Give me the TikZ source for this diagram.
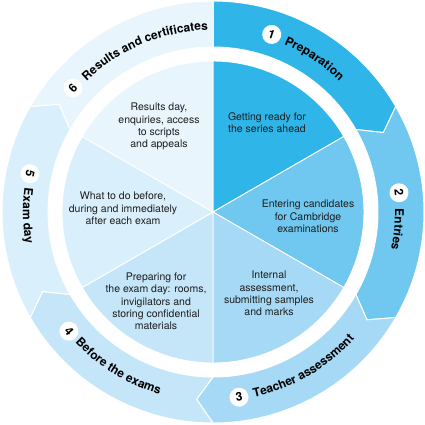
\documentclass[tikz,border=0pt]{standalone}
\usepackage{fontspec}
\setmainfont{TeX Gyre Heros}
\usetikzlibrary{decorations.text}
\definecolor{cA}{HTML}{2FB5E8}
\definecolor{cB}{HTML}{70C7EF}
\definecolor{cC}{HTML}{A5D9F5}
\definecolor{cD}{HTML}{C5E5F8}
\definecolor{cE}{HTML}{D9EFFB}
\definecolor{cF}{HTML}{E8F5FD}
\definecolor{txt}{HTML}{1E1E1E}
\def\Ro{211pt}
\def\Ri{165pt}
\def\Rm{188pt}
\def\Rp{151pt}
\newcommand\lbl{\bfseries\fontsize{12}{14}\selectfont}
\newcommand\ringseg[3]{%
  \fill[#1, draw=white, line width=1pt] (#2:\Ro) arc[start angle=#2, end angle=#3, radius=\Ro]
    -- ({#3-5}:\Rm) -- (#3:\Ri) arc[start angle=#3, end angle=#2, radius=\Ri]
    -- ({#2-5}:\Rm) -- cycle;}
\newcommand\piesec[3]{%
  \fill[#1, draw=white, line width=0.9pt] (0,0) -- (#2:\Rp) arc[start angle=#2, end angle=#3, radius=\Rp] -- cycle;}
\begin{document}
\begin{tikzpicture}[x=1pt,y=1pt,
  pietext/.style={align=center, text=txt, font=\fontsize{10.5}{12.3}\selectfont, inner sep=0pt},
  numc/.style={circle, fill=white, inner sep=0pt, minimum size=19pt, text=black, font=\bfseries\fontsize{12}{12}\selectfont}]
\useasboundingbox (-213,-212) rectangle (212,212);
% pie
\piesec{cA}{90}{30}
\piesec{cB}{30}{-30}
\piesec{cC}{-30}{-90}
\piesec{cD}{-90}{-150}
\piesec{cE}{-150}{-210}
\piesec{cF}{150}{90}
% ring
\fill[cA, draw=white, line width=1pt] (90:\Ro) arc[start angle=90, end angle=30, radius=\Ro]
  -- (25:\Rm) -- (30:\Ri) arc[start angle=30, end angle=90, radius=\Ri] -- cycle;
\ringseg{cB}{30}{-30}
\ringseg{cC}{-30}{-90}
\ringseg{cD}{-90}{-150}
\ringseg{cE}{-150}{-210}
\fill[cF, draw=white, line width=1pt] (150:\Ro) arc[start angle=150, end angle=90, radius=\Ro]
  -- (90:\Ri) arc[start angle=90, end angle=150, radius=\Ri] -- (145:\Rm) -- cycle;
% pie texts
\node[pietext] (t1) at (54,89.5) {Getting ready for\\the series ahead};
\node[pietext] (t2) at (95,-4.5) {Entering candidates\\for Cambridge\\examinations};
\node[pietext] (t3) at (56,-81.5) {Internal\\assessment,\\submitting samples\\and marks};
\node[pietext] (t4) at (-57,-89.5) {Preparing for\\the exam day: rooms,\\invigilators and\\storing confidential\\materials};
\node[pietext] (t5) at (-90,3.5) {What to do before,\\during and immediately\\after each exam};
\node[pietext] (t6) at (-54,85.5) {Results day,\\enquiries, access\\to scripts\\and appeals};
% number circles
\node[numc, rotate=-18.3] (n1) at (71.7:187pt) {1};
\node[numc, rotate=-84.1] (n2) at (5.9:187pt) {2};
\node[numc, rotate=8] (n3) at (-82:187pt) {3};
\node[numc, rotate=-50.4] (n4) at (-140.4:187pt) {4};
\node[numc, rotate=-101.8] (n5) at (168.2:187pt) {5};
\node[numc, rotate=48.5] (n6) at (138.5:187pt) {6};
% ring labels
\path[decorate, decoration={text along path, text={|\lbl|Preparation}}]
  (67:182pt) arc[start angle=67, end angle=0, radius=182pt];
\path[decorate, decoration={text along path, text={|\lbl|Entries}}]
  (1:182pt) arc[start angle=1, end angle=-50, radius=182pt];
\path[decorate, decoration={text along path, text={|\lbl|Teacher assessment}}]
  (-77.5:190pt) arc[start angle=-77.5, end angle=-10, radius=190pt];
\path[decorate, decoration={text along path, text={|\lbl|Before the exams}}]
  (-136.5:190pt) arc[start angle=-136.5, end angle=-80, radius=190pt];
\path[decorate, decoration={text along path, text={|\lbl|Exam day}}]
  (172.7:190pt) arc[start angle=172.7, end angle=230, radius=190pt];
\path[decorate, decoration={text along path, text={|\lbl|Results and certificates}}]
  (134:182pt) arc[start angle=134, end angle=70, radius=182pt];
\end{tikzpicture}
\end{document}
